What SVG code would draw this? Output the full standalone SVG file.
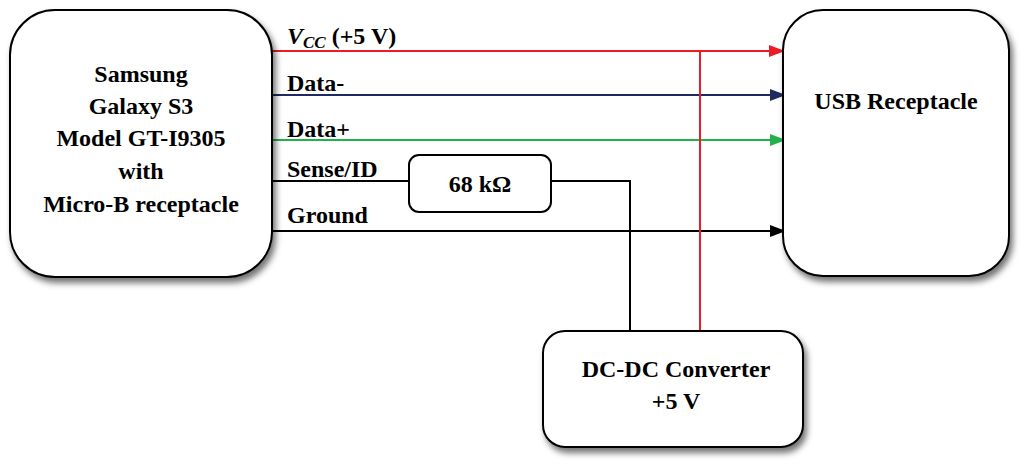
<svg xmlns="http://www.w3.org/2000/svg" width="1024" height="466" viewBox="0 0 1024 466">
<style>
.box{fill:#fff;stroke:#000;stroke-width:2;filter:url(#sh)}
text{font-family:'Liberation Serif','Times New Roman','DejaVu Serif',serif;font-weight:bold;font-size:24px;fill:#000}
.c{text-anchor:middle}
.w{fill:none;stroke-width:2}
</style>
<defs>
<filter id="sh" x="-10%" y="-10%" width="130%" height="130%"><feDropShadow dx="3" dy="5" stdDeviation="3" flood-color="#000" flood-opacity="0.55"/></filter>
<marker id="ar" markerWidth="16" markerHeight="12" refX="16" refY="6" orient="auto" markerUnits="userSpaceOnUse"><path d="M0,0L16,6L0,12z" fill="#ed1c24"/></marker>
<marker id="an" markerWidth="16" markerHeight="12" refX="16" refY="6" orient="auto" markerUnits="userSpaceOnUse"><path d="M0,0L16,6L0,12z" fill="#1f2a5e"/></marker>
<marker id="ag" markerWidth="16" markerHeight="12" refX="16" refY="6" orient="auto" markerUnits="userSpaceOnUse"><path d="M0,0L16,6L0,12z" fill="#22b14c"/></marker>
<marker id="ak" markerWidth="16" markerHeight="12" refX="16" refY="6" orient="auto" markerUnits="userSpaceOnUse"><path d="M0,0L16,6L0,12z" fill="#000"/></marker>
</defs>
<g id="connectors">
<path class="w" stroke="#ed1c24" d="M272,51H785" marker-end="url(#ar)"/>
<path class="w" stroke="#1f2a5e" d="M272,95H786" marker-end="url(#an)"/>
<path class="w" stroke="#22b14c" d="M272,140H786" marker-end="url(#ag)"/>
<path class="w" stroke="#000" d="M272,181H409M551,181H630V331"/>
<path class="w" stroke="#000" d="M272,231H786" marker-end="url(#ak)"/>
<path class="w" stroke="#ed1c24" d="M700,51V331"/>
</g>
<g id="phone"><rect class="box" x="10" y="10" width="262" height="267" rx="45"/>
<text class="c" x="141" y="82">Samsung</text><text class="c" x="141" y="114">Galaxy S3</text><text class="c" x="141" y="146">Model  GT-I9305</text><text class="c" x="141" y="179">with</text><text class="c" x="141" y="212">Micro-B receptacle</text></g>
<g id="usb"><rect class="box" x="783" y="10" width="226" height="266" rx="40"/><text class="c" x="896" y="109">USB Receptacle</text></g>
<g id="res"><rect class="box" x="409" y="155" width="142" height="57" rx="10" style="filter:none"/><text class="c" x="480" y="192">68 kΩ</text></g>
<g id="dcdc"><rect class="box" x="543" y="331" width="260" height="116" rx="22"/><text class="c" x="676" y="377">DC-DC Converter</text><text class="c" x="676" y="409">+5 V</text></g>
<g id="labels">
<text x="287" y="44"><tspan font-style="italic">V</tspan><tspan font-style="italic" font-size="17" dy="4">CC</tspan><tspan dy="-4"> (+5 V)</tspan></text>
<text x="287" y="91">Data-</text>
<text x="287" y="137">Data+</text>
<text x="287" y="177">Sense/ID</text>
<text x="287" y="223">Ground</text>
</g>
</svg>
